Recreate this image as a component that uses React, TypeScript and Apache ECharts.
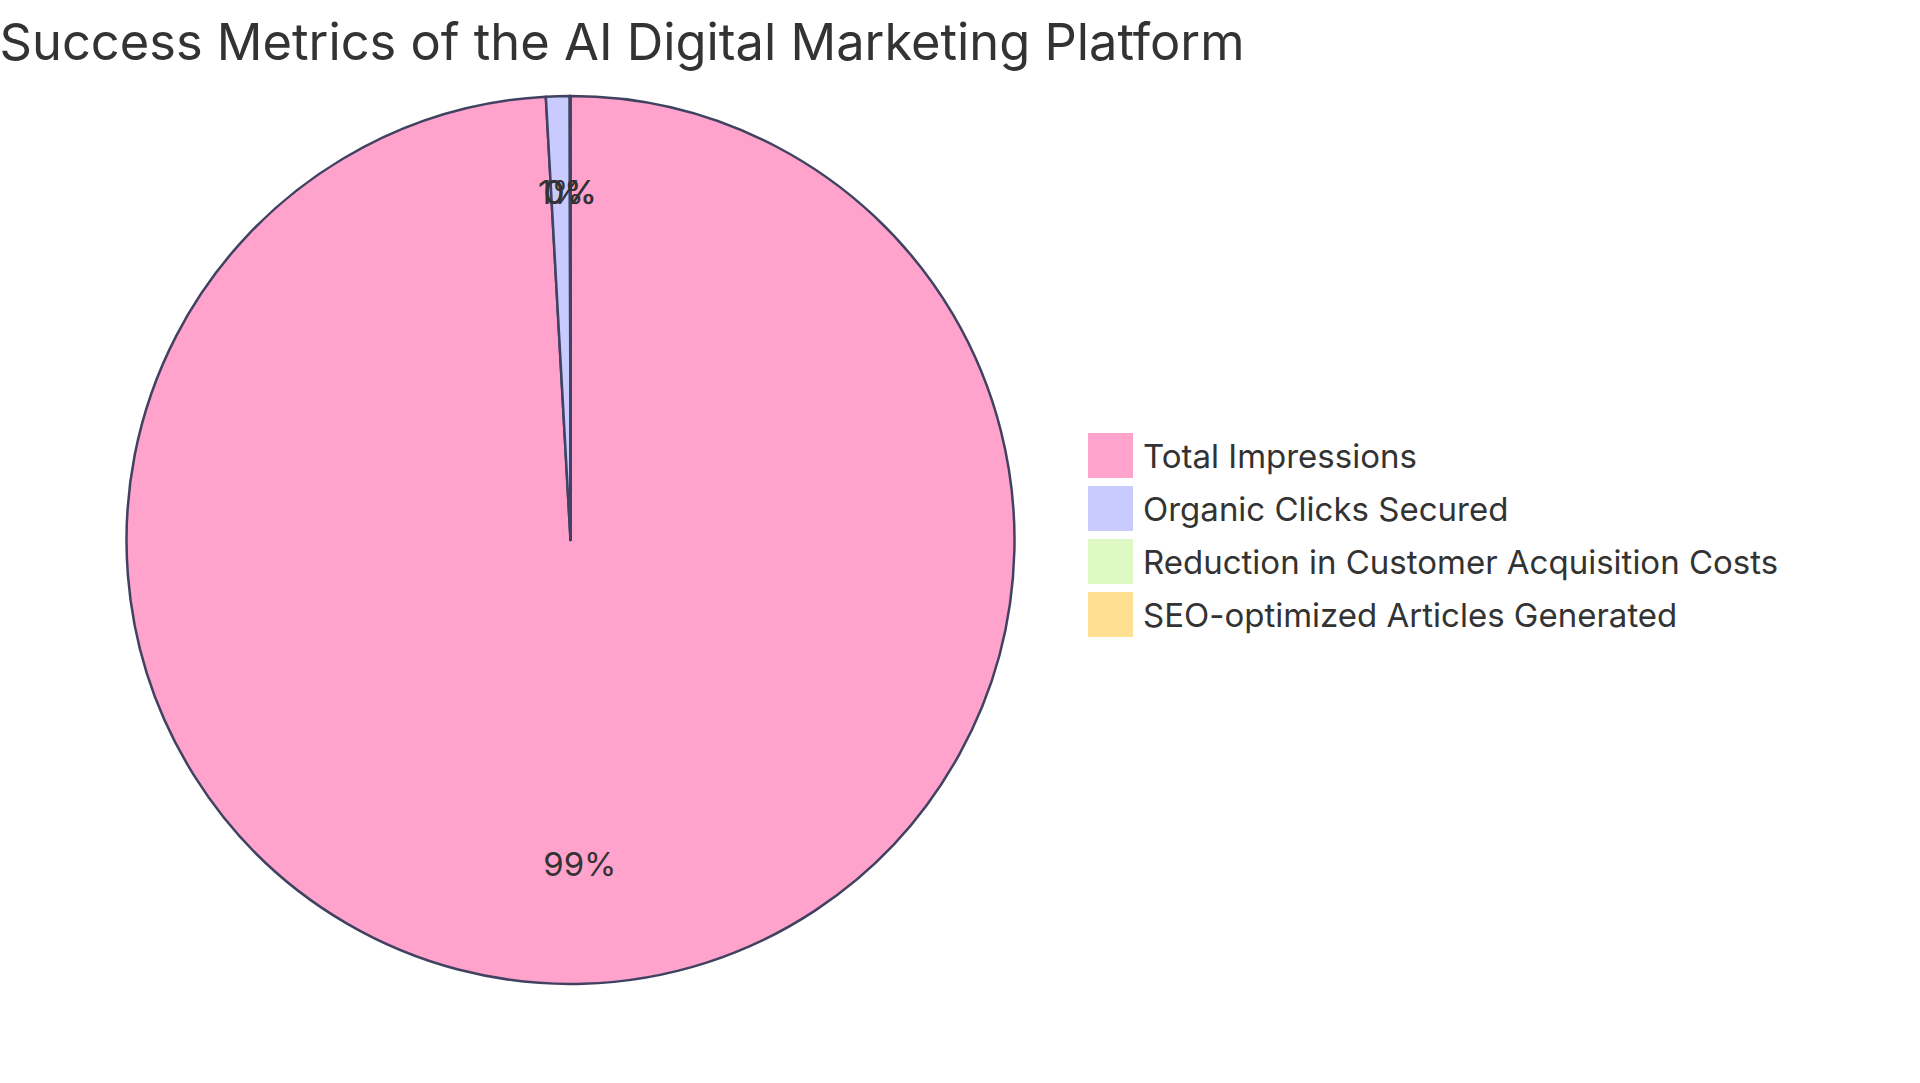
import React, { useEffect, useRef } from "react";
import * as echarts from "echarts";

const titleText = "Success Metrics of the AI Digital Marketing Platform";
const categories = [
  "Total Impressions",
  "Organic Clicks Secured",
  "Reduction in Customer Acquisition Costs",
  "SEO-optimized Articles Generated",
];
const values = [1000000, 8700, 30, 200];
const colors = ["#FFA2CC", "#C9CBFF", "#DEF9C4", "#FFDF91"];

const STROKE = "#3F4260";
const FONT = "Inter, 'Open Sans', sans-serif";

export default function App() {
  const ref = useRef<HTMLDivElement>(null);
  useEffect(() => {
    if (!ref.current) return;
    const chart = echarts.init(ref.current, null, { renderer: "svg" });
    const data = categories.map((name, i) => ({
      name,
      value: values[i],
      itemStyle: { color: colors[i] },
    }));
    const cx = 570.5;
    const cy = 540;
    const R = 444;
    chart.setOption({
      animation: false,
      backgroundColor: "#ffffff",
      graphic: [
        {
          type: "text",
          style: {
            text: titleText,
            x: 622,
            y: 41.5,
            textAlign: "center",
            textVerticalAlign: "middle",
            fontSize: 50.6,
            fontFamily: FONT,
            fill: "#333333",
          },
        },
      ],
      legend: {
        orient: "vertical",
        left: 1088,
        top: 433,
        padding: 0,
        itemWidth: 45,
        itemHeight: 45,
        itemGap: 8,
        icon: "rect",
        selectedMode: false,
        data: categories.map((name, i) => ({
          name,
          itemStyle: { color: colors[i], borderWidth: 0 },
        })),
        textStyle: {
          fontSize: 33,
          fontFamily: FONT,
          color: "#333333",
          padding: [0, 0, 0, 5],
        },
      },
      series: [
        {
          type: "pie",
          center: [cx, cy],
          radius: [0, R],
          startAngle: 90,
          clockwise: true,
          silent: true,
          label: { show: false },
          labelLine: { show: false },
          itemStyle: { borderColor: STROKE, borderWidth: 2.5 },
          data,
        },
        {
          type: "pie",
          name: "labels",
          center: [cx, cy],
          radius: [R / 2, R],
          startAngle: 90,
          clockwise: true,
          silent: true,
          minShowLabelAngle: 0,
          avoidLabelOverlap: false,
          legendHoverLink: false,
          labelLayout: { hideOverlap: false },
          itemStyle: { color: "rgba(0,0,0,0)", borderWidth: 0 },
          label: {
            show: true,
            position: "inside",
            fontSize: 33,
            fontFamily: FONT,
            color: "#333333",
            offset: [0, -12],
            formatter: (p: any) => Math.round(p.percent) + "%",
          },
          labelLine: { show: false },
          data: categories.map((name, i) => ({
            name: name + " ",
            value: values[i],
          })),
        },
      ],
    });
    return () => chart.dispose();
  }, []);
  return (
    <div
      ref={ref}
      style={{ position: "absolute", left: 0, top: 0, width: 1920, height: 1083 }}
    />
  );
}
